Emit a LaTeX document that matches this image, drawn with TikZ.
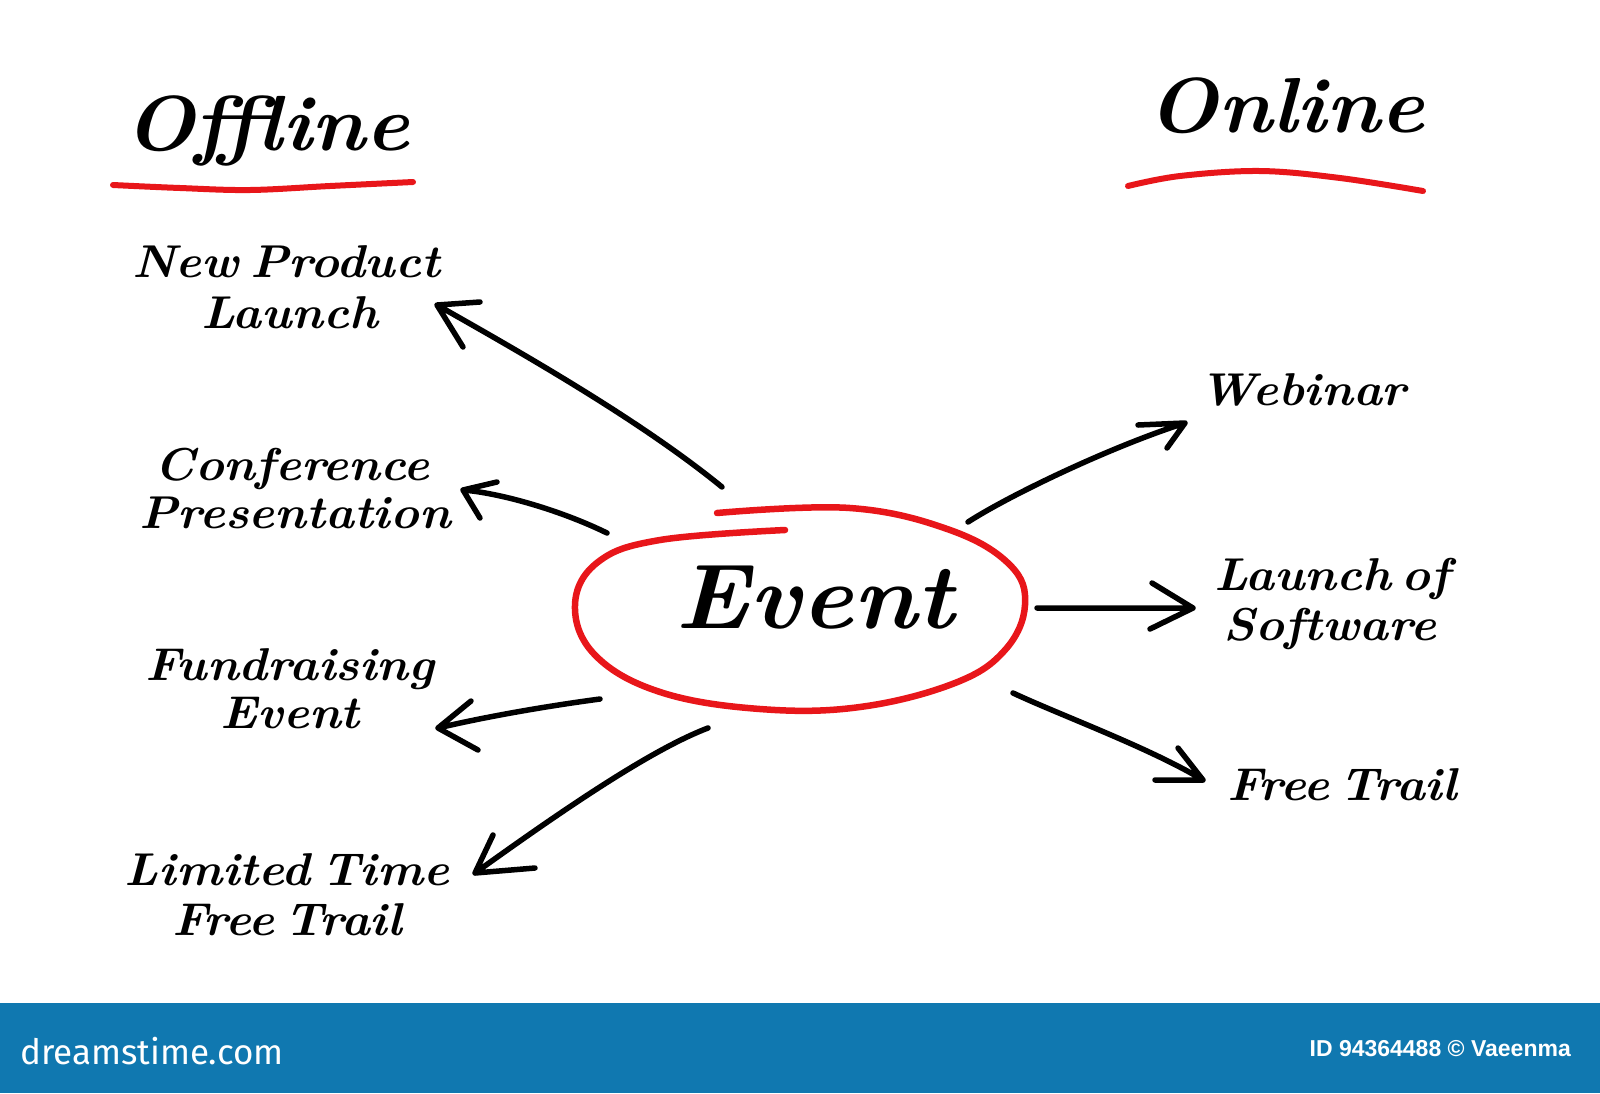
\documentclass[tikz,border=0pt]{standalone}
\usepackage{fontspec}
\usepackage{graphicx}
\newfontfamily\barfont{Liberation Sans}
\newfontfamily\logofont{Fira Sans}
\definecolor{penred}{RGB}{232,22,26}
\definecolor{barblue}{RGB}{16,120,176}
\newcommand\handtext[2]{\scalebox{1.06}[1]{\fontsize{#1}{#1}\selectfont\bfseries\itshape\spaceskip=0.22em #2}}
\begin{document}
\begin{tikzpicture}[x=1pt,y=-1pt,
  pen/.style={line width=5.5pt, line cap=round, line join=round},
  redpen/.style={line width=6.5pt, line cap=round, line join=round, draw=penred},
  lbl/.style={anchor=base, inner sep=0pt}]
\useasboundingbox (0,0) rectangle (1600,1093);
\fill[white] (0,0) rectangle (1600,1093);

% headings
\node[lbl] (offline) at (267,150) {\handtext{78}{Offline}};
\node[lbl] (online) at (1286,132) {\handtext{78}{Online}};
\draw[redpen, line width=6pt] plot[smooth, tension=0.6] coordinates {(113,185) (180,188) (250,190) (330,186) (413,182)};
\draw[redpen, line width=6pt] plot[smooth, tension=0.6] coordinates {(1128,186) (1180,176) (1260,171) (1340,178) (1423,191)};

% centre
\node[lbl] (event) at (815,628) {\handtext{92}{Event}};
\draw[redpen] plot[smooth, tension=0.65] coordinates {(717,513) (850,508) (950,530) (1010,565) (1025,605) (1005,650) (955,683) (860,707) (760,709) (660,692) (595,655) (575,605) (598,562) (660,540) (785,530)};

% offline labels
\node[lbl] (np1) at (286,277) {\handtext{46}{New Product}};
\node[lbl] (np2) at (290,328) {\handtext{46}{Launch}};
\node[lbl] (cp1) at (292,480) {\handtext{46}{Conference}};
\node[lbl] (cp2) at (295,528) {\handtext{46}{Presentation}};
\node[lbl] (fe1) at (290,680) {\handtext{46}{Fundraising}};
\node[lbl] (fe2) at (290,728) {\handtext{46}{Event}};
\node[lbl] (lt1) at (287,885) {\handtext{46}{Limited Time}};
\node[lbl] (lt2) at (287,935) {\handtext{46}{Free Trail}};

% online labels
\node[lbl] (web) at (1303,405) {\handtext{46}{Webinar}};
\node[lbl] (ls1) at (1332,590) {\handtext{46}{Launch of}};
\node[lbl] (ls2) at (1330,640) {\handtext{46}{Software}};
\node[lbl] (ft) at (1342,800) {\handtext{46}{Free Trail}};

% arrow end points
\coordinate (npTail) at (722,487);  \coordinate (npTip) at (437,305);
\coordinate (cpTail) at (607,533);  \coordinate (cpTip) at (463,490);
\coordinate (feTail) at (600,699);  \coordinate (feTip) at (438,728);
\coordinate (ltTail) at (708,728);  \coordinate (ltTip) at (475,873);
\coordinate (webTail) at (968,522); \coordinate (webTip) at (1185,423);
\coordinate (lsTail) at (1037,608); \coordinate (lsTip) at (1193,608);
\coordinate (ftTail) at (1013,693); \coordinate (ftTip) at (1203,780);

% arrows
\draw[pen] (npTail) .. controls (640,420) and (520,352) .. (npTip) -- (480,302) (npTip) -- (463,347);
\draw[pen] (cpTail) .. controls (560,510) and (500,493) .. (cpTip) -- (497,482) (cpTip) -- (480,518);
\draw[pen] (feTail) .. controls (540,707) and (480,718) .. (feTip) -- (471,701) (feTip) -- (478,750);
\draw[pen] (ltTail) .. controls (650,750) and (560,812) .. (ltTip) -- (493,835) (ltTip) -- (535,868);
\draw[pen] (webTail) .. controls (1010,495) and (1110,447) .. (webTip) -- (1138,425) (webTip) -- (1167,448);
\draw[pen] (lsTail) -- (lsTip) -- (1152,583) (lsTip) -- (1150,629);
\draw[pen] (ftTail) .. controls (1060,715) and (1150,748) .. (ftTip) -- (1155,780) (ftTip) -- (1178,748);

% bottom bar
\fill[barblue] (0,1003) rectangle (1600,1093);
\node[anchor=base west, inner sep=0pt, text=white] (logo) at (20,1064) {\logofont\fontsize{35}{35}\selectfont dreamstime.com};
\node[anchor=base east, inner sep=0pt, text=white] (credit) at (1571,1056) {\barfont\bfseries\fontsize{23}{23}\selectfont ID 94364488 © Vaeenma};
\end{tikzpicture}
\end{document}
